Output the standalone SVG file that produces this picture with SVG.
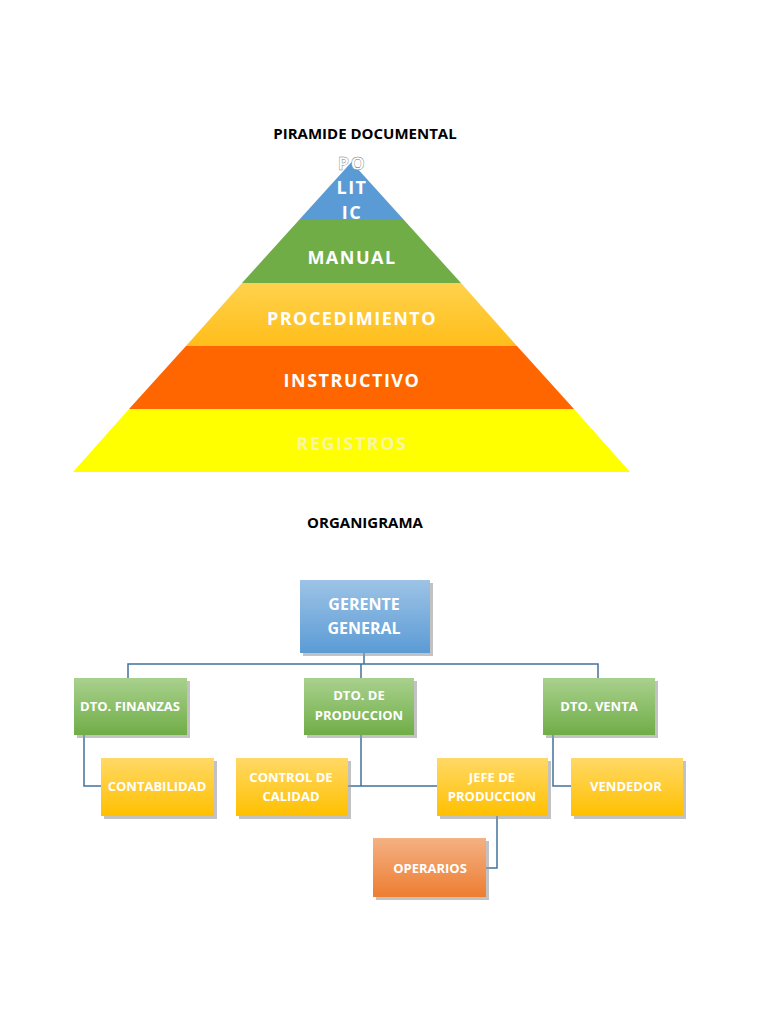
<svg xmlns="http://www.w3.org/2000/svg" width="768" height="1024" viewBox="0 0 768 1024">
<style>
.t{font-family:"Open Sans","Liberation Sans",sans-serif;font-weight:bold;text-anchor:middle}
.title{font-size:15px;fill:#000}
.band{font-size:18px;fill:#fff;letter-spacing:1.5px}
.n{font-size:13px;fill:#fff}
.sh{fill:#999;opacity:0.6}
.c{fill:none;stroke:#41719c;stroke-width:1.5}
</style>
<defs>
<linearGradient id="gb" x1="0" y1="0" x2="0" y2="1"><stop offset="0" stop-color="#9dc3e6"/><stop offset="1" stop-color="#5b9bd5"/></linearGradient>
<linearGradient id="gg" x1="0" y1="0" x2="0" y2="1"><stop offset="0" stop-color="#a9d18e"/><stop offset="1" stop-color="#70ad47"/></linearGradient>
<linearGradient id="gy" x1="0" y1="0" x2="0" y2="1"><stop offset="0" stop-color="#ffd966"/><stop offset="1" stop-color="#ffc000"/></linearGradient>
<linearGradient id="go" x1="0" y1="0" x2="0" y2="1"><stop offset="0" stop-color="#f4b183"/><stop offset="1" stop-color="#ed7d31"/></linearGradient>
<linearGradient id="gp" x1="0" y1="0" x2="0" y2="1"><stop offset="0" stop-color="#ffd24d"/><stop offset="1" stop-color="#ffbe1a"/></linearGradient>
</defs>
<text class="t title" x="365" y="139">PIRAMIDE DOCUMENTAL</text>
<g id="pyramid">
<polygon points="351.5,162 404,220 299,220" fill="#5b9bd5"/>
<polygon points="299,220 404,220 461,283 242,283" fill="#70ad47"/>
<polygon points="242,283 461,283 517,346 186,346" fill="url(#gp)"/>
<polygon points="186,346 517,346 574,409 129,409" fill="#ff6600"/>
<polygon points="129,409 574,409 630,472 73,472" fill="#ffff00"/>
<text class="t band" x="352" y="170" stroke="#777" stroke-width="0.4">PO</text>
<text class="t band" x="352" y="194">LIT</text>
<text class="t band" x="352" y="219">IC</text>
<text class="t band" x="352" y="264">MANUAL</text>
<text class="t band" x="352" y="325">PROCEDIMIENTO</text>
<text class="t band" x="352" y="387">INSTRUCTIVO</text>
<text class="t band" x="352" y="450" fill="#fdfbb0" style="fill:#f8f6a0">REGISTROS</text>
</g>
<text class="t title" x="365" y="528">ORGANIGRAMA</text>
<g id="connectors">
<path class="c" d="M364,653V664M128,678V664H598V678M361,664V678"/>
<path class="c" d="M84,735V786H101"/>
<path class="c" d="M361,735V786M348,786H437"/>
<path class="c" d="M553,735V786H571"/>
<path class="c" d="M497,816V868H486"/>
</g>
<g id="gerente"><rect class="sh" x="303" y="583" width="130" height="73"/><rect x="300" y="580" width="130" height="73" fill="url(#gb)"/><text class="t n" style="font-size:16px" x="364" y="610">GERENTE</text><text class="t n" style="font-size:16px" x="364" y="634">GENERAL</text></g>
<g id="finanzas"><rect class="sh" x="77" y="681" width="113" height="57"/><rect x="74" y="678" width="113" height="57" fill="url(#gg)"/><text class="t n" x="130" y="711">DTO. FINANZAS</text></g>
<g id="produccion"><rect class="sh" x="307" y="681" width="110" height="57"/><rect x="304" y="678" width="110" height="57" fill="url(#gg)"/><text class="t n" x="359" y="700">DTO. DE</text><text class="t n" x="359" y="720">PRODUCCION</text></g>
<g id="venta"><rect class="sh" x="546" y="681" width="112" height="57"/><rect x="543" y="678" width="112" height="57" fill="url(#gg)"/><text class="t n" x="599" y="711">DTO. VENTA</text></g>
<g id="contabilidad"><rect class="sh" x="104" y="761" width="113" height="58"/><rect x="101" y="758" width="113" height="58" fill="url(#gy)"/><text class="t n" x="157" y="791">CONTABILIDAD</text></g>
<g id="control"><rect class="sh" x="239" y="761" width="112" height="58"/><rect x="236" y="758" width="112" height="58" fill="url(#gy)"/><text class="t n" x="291" y="782">CONTROL DE</text><text class="t n" x="291" y="801">CALIDAD</text></g>
<g id="jefe"><rect class="sh" x="440" y="761" width="111" height="58"/><rect x="437" y="758" width="111" height="58" fill="url(#gy)"/><text class="t n" x="492" y="782">JEFE DE</text><text class="t n" x="492" y="801">PRODUCCION</text></g>
<g id="vendedor"><rect class="sh" x="574" y="761" width="112" height="58"/><rect x="571" y="758" width="112" height="58" fill="url(#gy)"/><text class="t n" x="626" y="791">VENDEDOR</text></g>
<g id="operarios"><rect class="sh" x="376" y="841" width="113" height="59"/><rect x="373" y="838" width="113" height="59" fill="url(#go)"/><text class="t n" x="430" y="873">OPERARIOS</text></g>
</svg>
